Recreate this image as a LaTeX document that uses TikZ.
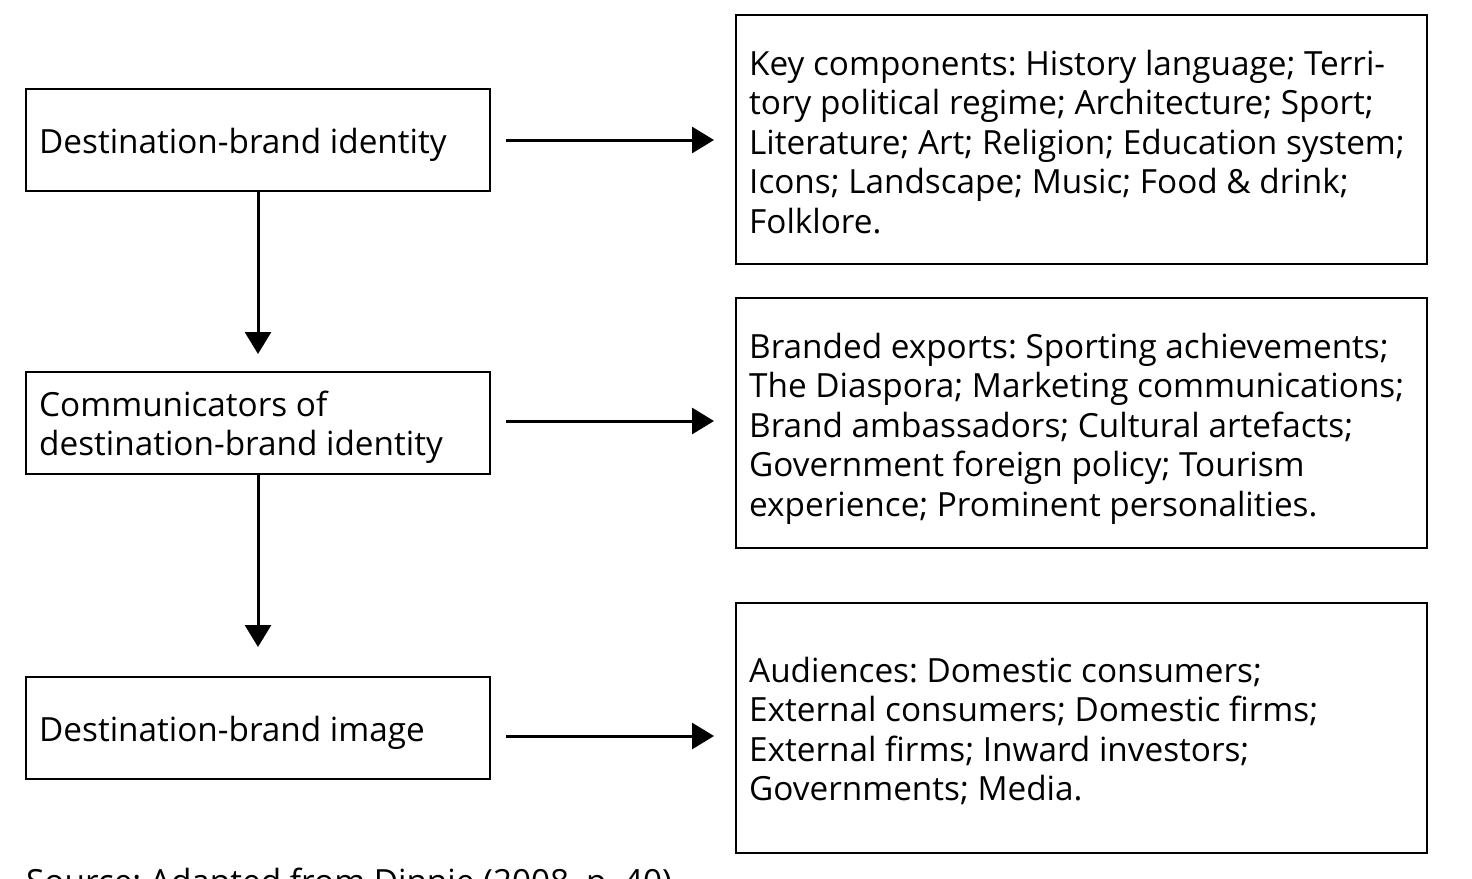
\documentclass[tikz,border=0pt]{standalone}
\usepackage{fontspec}
\setmainfont{Open Sans}
\usetikzlibrary{arrows.meta}
\frenchspacing
\begin{document}
\begin{tikzpicture}[x=1pt,y=-1pt,
 box/.style={draw,line width=1.2pt},
 txt/.style={anchor=base west,inner sep=0,align=left,font=\fontsize{33.3}{39.5}\selectfont},
 arr/.style={line width=3pt,-{Triangle[length=22pt,width=26pt]}}]
\useasboundingbox (0,0) rectangle (1472,878);
\clip (0,0) rectangle (1472,878);
\draw[box] (26,89) rectangle (490,191);
\draw[box] (26,372) rectangle (490,474);
\draw[box] (26,677) rectangle (490,779);
\draw[box] (736,15) rectangle (1427,264);
\draw[box] (736,298) rectangle (1427,548);
\draw[box] (736,603) rectangle (1427,853);
\coordinate (a1) at (506,140); \coordinate (b1) at (714,140);
\coordinate (a2) at (506,421); \coordinate (b2) at (714,421);
\coordinate (a3) at (506,736); \coordinate (b3) at (714,736);
\coordinate (v1) at (258,191); \coordinate (w1) at (258,354);
\coordinate (v2) at (258,474); \coordinate (w2) at (258,647);
\foreach \p/\q in {a1/b1,a2/b2,a3/b3,v1/w1,v2/w2} \draw[arr] (\p) -- (\q);
% nodes anchored at baseline of last line
\node[txt] (t1) at (39,153) {Destination-brand identity};
\node[txt] (t2) at (39,455.5) {Communicators of\\destination-brand identity};
\node[txt] (t3) at (39,741) {Destination-brand image};
\node[txt] (r1) at (749,233) {Key components: History language; Terri-\\tory political regime; Architecture; Sport;\\Literature; Art; Religion; Education system;\\Icons; Landscape; Music; Food \& drink;\\Folklore.};
\node[txt] (r2) at (749,516) {Branded exports: Sporting achievements;\\The Diaspora; Marketing communications;\\Brand ambassadors; Cultural artefacts;\\Government foreign policy; Tourism\\experience; Prominent personalities.};
\node[txt] (r3) at (749,800.5) {Audiences: Domestic consumers;\\External consumers; Domestic firms;\\External firms; Inward investors;\\Governments; Media.};
\node[txt] (src) at (26,893) {Source: Adapted from Dinnie (2008, p. 40)};
\end{tikzpicture}
\end{document}
